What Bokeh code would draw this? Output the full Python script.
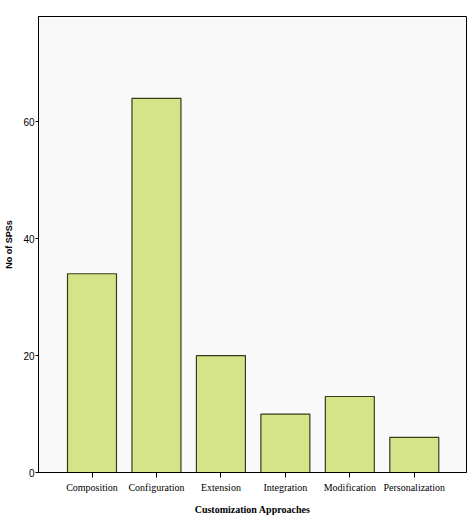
from bokeh.plotting import figure
from bokeh.models import FixedTicker, Range1d
from bokeh.embed import file_html
from bokeh.resources import INLINE

categories = ["Composition", "Configuration", "Extension", "Integration", "Modification", "Personalization"]
counts = [34, 64, 20, 10, 13, 6]
y_ticks = [0, 20, 40, 60]

xs = [i + 0.5 for i in range(len(categories))]

p = figure(width=467, height=517, output_backend="svg", toolbar_location=None,
           x_range=Range1d(-0.33, 6.31), y_range=Range1d(0, 78),
           min_border_left=38, min_border_top=16, min_border_right=1, min_border_bottom=40)

p.vbar(x=xs, top=counts, width=0.76, bottom=0,
       fill_color="#d5e389", line_color="#3a3a1e", line_width=1.2)

p.background_fill_color = "#f9f9f9"
p.border_fill_color = "white"
p.outline_line_color = "black"
p.outline_line_width = 1
p.grid.visible = False

p.xaxis.ticker = FixedTicker(ticks=xs)
p.xaxis.major_label_overrides = {x: c for x, c in zip(xs, categories)}
p.xaxis.minor_tick_line_color = None
p.xaxis.major_tick_in = 0
p.xaxis.major_tick_out = 5
p.xaxis.major_label_text_font = "Liberation Serif"
p.xaxis.major_label_text_font_size = "10px"
p.xaxis.major_label_standoff = 4
p.xaxis.axis_label = "Customization Approaches"
p.xaxis.axis_label_text_font = "Liberation Serif"
p.xaxis.axis_label_text_font_style = "bold"
p.xaxis.axis_label_text_font_size = "10px"
p.xaxis.axis_label_standoff = 8

p.yaxis.ticker = FixedTicker(ticks=y_ticks)
p.yaxis.minor_tick_line_color = None
p.yaxis.major_tick_in = 0
p.yaxis.major_tick_out = 3
p.yaxis.major_label_text_font = "Liberation Sans"
p.yaxis.major_label_text_font_size = "10px"
p.yaxis.major_label_standoff = 1
p.yaxis.axis_label = "No of SPSs"
p.yaxis.axis_label_text_font = "Liberation Sans"
p.yaxis.axis_label_text_font_style = "bold"
p.yaxis.axis_label_text_font_size = "9px"
p.yaxis.axis_label_standoff = 6

for ax in (p.xaxis, p.yaxis):
    ax.axis_line_color = "black"
    ax.major_tick_line_color = "black"
    ax.major_label_text_color = "black"
    ax.axis_label_text_color = "black"

open("out.html", "w").write(file_html(p, INLINE))
